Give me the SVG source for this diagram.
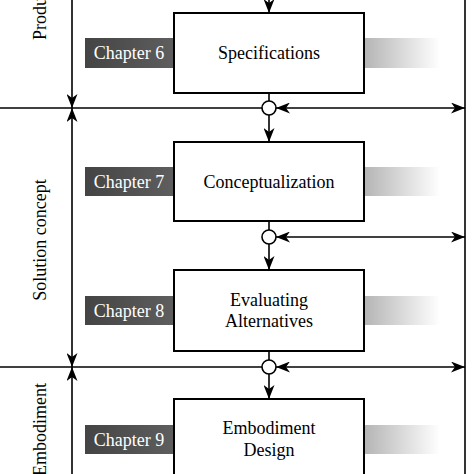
<svg xmlns="http://www.w3.org/2000/svg" width="474" height="474" viewBox="0 0 474 474">
<defs>
<marker id="arr" viewBox="0 -5.5 14 11" refX="14" refY="0" markerWidth="14" markerHeight="11" markerUnits="userSpaceOnUse" orient="auto-start-reverse">
<path d="M0,-5.5 L14,0 L0,5.5 L4,0 Z" fill="#000"/>
</marker>
<linearGradient id="fade" x1="0" y1="0" x2="1" y2="0">
<stop offset="0" stop-color="#b5b5b5"/>
<stop offset="1" stop-color="#ffffff"/>
</linearGradient>
<linearGradient id="chap" x1="0" y1="0" x2="1" y2="0">
<stop offset="0" stop-color="#444444"/>
<stop offset="1" stop-color="#5e5e5e"/>
</linearGradient>
</defs>
<style>
.ln{stroke:#000;stroke-width:1.6;fill:none}
.ar{marker-end:url(#arr)}
.ar2{marker-start:url(#arr);marker-end:url(#arr)}
.box{fill:#fff;stroke:#000;stroke-width:2}
.chap{fill:url(#chap)}
.fade{fill:url(#fade)}
.ct{font-family:"Liberation Serif","Times New Roman",serif;font-size:18px;fill:#fff;text-anchor:middle}
.bt{font-family:"Liberation Serif","Times New Roman",serif;font-size:18px;fill:#000;text-anchor:middle}
.side{font-family:"Liberation Serif","Times New Roman",serif;font-size:18px;fill:#000}
.dot{fill:#fff;stroke:#000;stroke-width:1.6}
</style>
<rect width="474" height="474" fill="#fff"/>
<g id="connectors">
<line class="ln ar" x1="72" y1="0" x2="72" y2="108"/>
<line class="ln ar2" x1="72" y1="108" x2="72" y2="367"/>
<line class="ln" x1="72" y1="367" x2="72" y2="474" style="marker-start:url(#arr)"/>
<line class="ln" x1="465" y1="0" x2="465" y2="474"/>
<line class="ln" x1="0" y1="108" x2="262" y2="108"/>
<line class="ln ar2" x1="276" y1="108" x2="465" y2="108"/>
<line class="ln ar2" x1="276" y1="237" x2="465" y2="237"/>
<line class="ln" x1="0" y1="367" x2="262" y2="367"/>
<line class="ln ar2" x1="276" y1="367" x2="465" y2="367"/>
<line class="ln ar" x1="269" y1="0" x2="269" y2="13"/>
<line class="ln" x1="269" y1="93" x2="269" y2="101"/>
<line class="ln ar" x1="269" y1="115" x2="269" y2="142"/>
<line class="ln" x1="269" y1="221" x2="269" y2="230"/>
<line class="ln ar" x1="269" y1="244" x2="269" y2="270"/>
<line class="ln" x1="269" y1="351" x2="269" y2="360"/>
<line class="ln ar" x1="269" y1="374" x2="269" y2="399"/>
<circle class="dot" cx="269" cy="108" r="7"/>
<circle class="dot" cx="269" cy="237" r="7"/>
<circle class="dot" cx="269" cy="367" r="7"/>
</g>
<g id="phase-labels">
<text class="side" transform="translate(46,40) rotate(-90)">Product</text>
<text class="side" transform="translate(46,240) rotate(-90)" text-anchor="middle">Solution concept</text>
<text class="side" transform="translate(46,476) rotate(-90)">Embodiment</text>
</g>
<g id="spec">
<rect class="chap" x="85" y="38" width="88" height="30"/>
<text class="ct" x="129" y="59">Chapter 6</text>
<rect class="box" x="174" y="13" width="190" height="80"/>
<rect class="fade" x="365" y="38" width="75" height="30"/>
<text class="bt" x="269" y="59">Specifications</text>
</g>
<g id="concept">
<rect class="chap" x="85" y="167" width="88" height="29"/>
<text class="ct" x="129" y="188">Chapter 7</text>
<rect class="box" x="174" y="142" width="190" height="79"/>
<rect class="fade" x="365" y="167" width="75" height="29"/>
<text class="bt" x="269" y="188">Conceptualization</text>
</g>
<g id="evaluate">
<rect class="chap" x="85" y="296" width="88" height="29"/>
<text class="ct" x="129" y="317">Chapter 8</text>
<rect class="box" x="174" y="270" width="190" height="81"/>
<rect class="fade" x="365" y="296" width="75" height="29"/>
<text class="bt" x="269" y="306">Evaluating</text>
<text class="bt" x="269" y="327">Alternatives</text>
</g>
<g id="embodiment">
<rect class="chap" x="85" y="425" width="88" height="29"/>
<text class="ct" x="129" y="446">Chapter 9</text>
<rect class="box" x="174" y="399" width="190" height="90"/>
<rect class="fade" x="365" y="425" width="75" height="29"/>
<text class="bt" x="269" y="434">Embodiment</text>
<text class="bt" x="269" y="456">Design</text>
</g>
</svg>
